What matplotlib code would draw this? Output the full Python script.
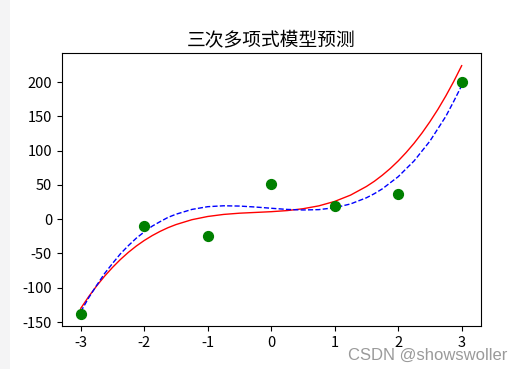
import matplotlib
matplotlib.use("Agg")
import matplotlib.pyplot as plt
from matplotlib.patches import Rectangle

plt.rcParams['font.family'] = ['Noto Sans CJK SC', 'DejaVu Sans']
plt.rcParams['axes.unicode_minus'] = False

# observed sample points
x_points = [-3, -2, -1, 0, 1, 2, 3]
y_points = [-137.7, -9.3, -23.8, 50.9, 19.8, 36.3, 200.0]

# curve sample positions
x_curve = [-3.0, -2.875, -2.75, -2.625, -2.5, -2.375, -2.25, -2.125, -2.0, -1.875, -1.75,
           -1.625, -1.5, -1.25, -1.0, -0.75, -0.5, -0.25, 0.0, 0.25, 0.5, 0.75, 1.0, 1.25,
           1.5, 1.625, 1.75, 1.875, 2.0, 2.125, 2.25, 2.375, 2.5, 2.625, 2.75, 2.875, 3.0]

# red solid curve (true model)
y_true = [-130.0, -112.9, -97.3, -83.1, -70.3, -58.7, -48.3, -39.1, -31.0, -23.9, -17.7,
          -12.3, -7.8, -0.7, 4.0, 7.0, 8.8, 9.9, 11.0, 12.6, 15.3, 19.5, 26.0, 35.2,
          47.8, 55.4, 64.2, 74.0, 85.0, 97.3, 110.8, 125.8, 142.3, 160.2, 179.8, 201.0, 224.0]

# blue dashed curve (fitted model)
y_fit = [-135.0, -114.5, -96.5, -79.2, -64.5, -50.4, -38.5, -27.6, -18.5, -10.1, -3.5,
         2.7, 7.3, 14.3, 18.3, 19.6, 19.2, 17.8, 16.0, 14.3, 13.5, 14.0, 16.8, 22.3,
         31.3, 37.3, 44.3, 53.2, 62.0, 73.6, 85.0, 99.5, 114.0, 132.0, 150.0, 172.0, 195.0]

title_text = '三次多项式模型预测'
watermark = 'CSDN @showswoller'

fig = plt.figure(figsize=(5.24, 3.69), dpi=100)
fig.patches.append(Rectangle((0, 0), 10 / 524, 1, transform=fig.transFigure,
                             facecolor='#f4f4f5', edgecolor='none', zorder=0))
ax = fig.add_axes([0.1178, 0.1165, 0.7996, 0.7391])

ax.scatter(x_points, y_points, color='green', s=50, zorder=3)
ax.plot(x_curve, y_true, color='red', linewidth=1.0)
ax.plot(x_curve, y_fit, color='blue', linestyle='--', linewidth=1.0)

ax.set_title(title_text, fontsize=13.5, pad=6)
ax.tick_params(labelsize=10.5)

fig.text(0.969, 0.036, watermark, ha='right', va='center', fontsize=12,
         color='#9a9a9a', family=['Liberation Sans'])

fig.savefig('out.png', dpi=100)
